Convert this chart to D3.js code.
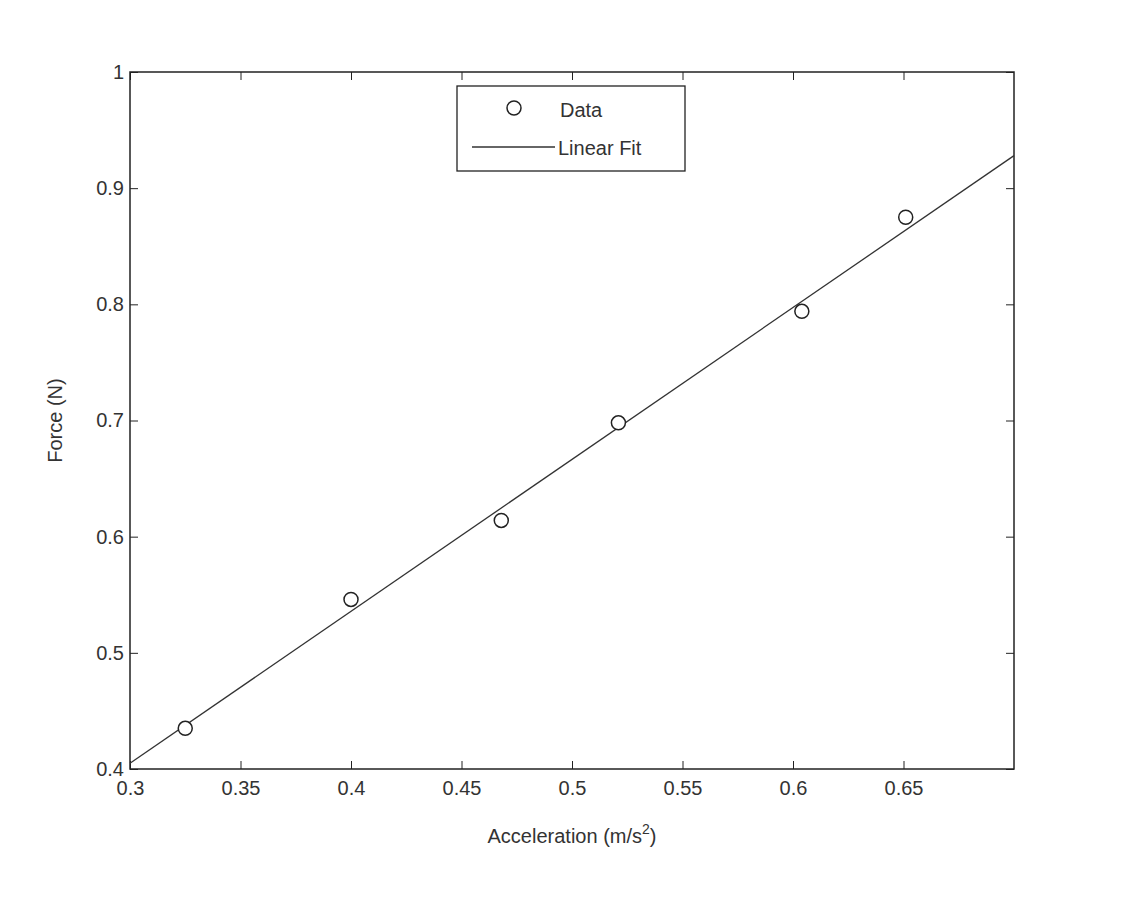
<!DOCTYPE html>
<html><head><meta charset="utf-8">
<script src="https://cdn.jsdelivr.net/npm/d3@7"></script>
<style>body{margin:0;background:#fff}svg text{font-family:"Liberation Sans",Arial,sans-serif;fill:#333}</style>
</head><body>
<script>
const accel = [0.325, 0.400, 0.468, 0.521, 0.604, 0.651];
const force = [0.435, 0.546, 0.614, 0.698, 0.794, 0.875];
const fitX = [0.3, 0.7];
const fitY = [0.405, 0.928];
const xTicks = [0.3, 0.35, 0.4, 0.45, 0.5, 0.55, 0.6, 0.65];
const yTicks = [0.4, 0.5, 0.6, 0.7, 0.8, 0.9, 1];

const W = 1139, H = 903, L = 130, R = 1014, T = 72, B = 769;
const svg = d3.select("body").append("svg").attr("width", W).attr("height", H);
const x = d3.scaleLinear().domain([0.3, 0.7]).range([L, R]);
const y = d3.scaleLinear().domain([0.4, 1.0]).range([B, T]);
const fmt = d => d3.format("")(+d.toFixed(2));

function style(g){ g.select(".domain").remove(); g.selectAll("text").attr("font-size",20).attr("fill","#333"); g.selectAll("line").attr("stroke","#222"); }
svg.append("g").attr("transform",`translate(0,${B})`).call(d3.axisBottom(x).tickValues(xTicks).tickSize(-8).tickPadding(12).tickFormat(fmt)).call(style);
svg.append("g").attr("transform",`translate(0,${T})`).call(d3.axisTop(x).tickValues(xTicks).tickSize(-8).tickFormat("")).call(style);
svg.append("g").attr("transform",`translate(${L},0)`).call(d3.axisLeft(y).tickValues(yTicks).tickSize(-8).tickPadding(6).tickFormat(fmt)).call(style);
svg.append("g").attr("transform",`translate(${R},0)`).call(d3.axisRight(y).tickValues(yTicks).tickSize(-8).tickFormat("")).call(style);
svg.append("rect").attr("x",L).attr("y",T).attr("width",R-L).attr("height",B-T).attr("fill","none").attr("stroke","#222").attr("stroke-width",1.5);

svg.append("line").attr("x1",x(fitX[0])).attr("y1",y(fitY[0])).attr("x2",x(fitX[1])).attr("y2",y(fitY[1])).attr("stroke","#333").attr("stroke-width",1.3);
svg.selectAll("circle.d").data(accel).join("circle").attr("cx",d=>x(d)).attr("cy",(d,i)=>y(force[i])).attr("r",7).attr("fill","#fff").attr("stroke","#222").attr("stroke-width",1.5);

const lg = svg.append("g");
lg.append("rect").attr("x",457).attr("y",86).attr("width",228).attr("height",85).attr("fill","#fff").attr("stroke","#222").attr("stroke-width",1.3);
lg.append("circle").attr("cx",514).attr("cy",108).attr("r",7).attr("fill","#fff").attr("stroke","#222").attr("stroke-width",1.5);
lg.append("text").attr("x",560).attr("y",117).attr("font-size",20).text("Data");
lg.append("line").attr("x1",472).attr("x2",555).attr("y1",147).attr("y2",147).attr("stroke","#333").attr("stroke-width",1.3);
lg.append("text").attr("x",558).attr("y",155).attr("font-size",20).text("Linear Fit");

const xl = svg.append("text").attr("x",(L+R)/2).attr("y",843).attr("text-anchor","middle").attr("font-size",20);
xl.append("tspan").text("Acceleration (m/s");
xl.append("tspan").attr("font-size",14).attr("dy",-9).text("2");
xl.append("tspan").attr("dy",9).text(")");
svg.append("text").attr("transform",`translate(62,${(T+B)/2}) rotate(-90)`).attr("text-anchor","middle").attr("font-size",20).text("Force (N)");
</script>
</body></html>
